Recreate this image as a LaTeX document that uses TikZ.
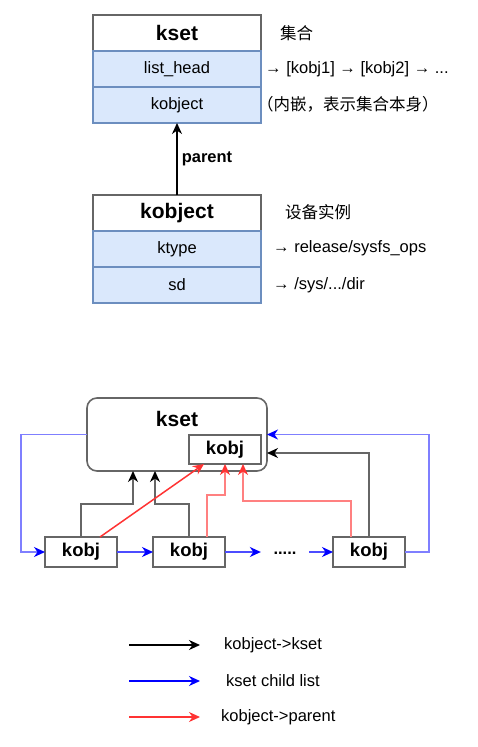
\documentclass[tikz,border=0pt]{standalone}
\usepackage{fontspec}
\setmainfont{Liberation Sans}
\newfontfamily\cjk{Noto Sans CJK SC}
\usetikzlibrary{positioning,arrows.meta}

\definecolor{fieldfill}{HTML}{DAE8FC}
\definecolor{fieldline}{HTML}{6C8EBF}
\definecolor{boxline}{HTML}{666666}
\definecolor{loopblue}{HTML}{7F7FFF}
\definecolor{linkblue}{HTML}{4C4CFF}
\definecolor{tipblue}{HTML}{0000FF}
\definecolor{lightred}{HTML}{FF8080}
\definecolor{tipred}{HTML}{FF3333}

\begin{document}
\begin{tikzpicture}[x=1pt,y=-1pt,
    head node/.style={draw=boxline,fill=white,line width=1.6pt,minimum width=168pt,minimum height=36pt,inner sep=0pt,outer sep=0pt,font=\fontsize{21}{24}\selectfont\bfseries},
    field node/.style={draw=fieldline,fill=fieldfill,line width=1.6pt,minimum width=168pt,minimum height=36pt,inner sep=0pt,outer sep=0pt,font=\fontsize{16.5}{19}\selectfont},
    note/.style={anchor=west,inner sep=0pt,font=\fontsize{16.5}{19}\selectfont},
    kobj node/.style={draw=boxline,fill=white,line width=1.6pt,minimum width=72pt,minimum height=30pt,inner sep=0pt,outer sep=0pt,font=\fontsize{18.5}{21}\selectfont\bfseries},
    set node/.style={draw=boxline,fill=white,line width=1.6pt,rounded corners=10pt,minimum width=180pt,minimum height=73pt,inner sep=0pt,outer sep=0pt},
    tip/.style={-{Stealth[length=11pt,width=10pt,inset=3.5pt,#1]}},
    set arrow/.style={draw=boxline,line width=1.5pt,tip={color=black}},
    list arrow/.style={line width=1.5pt,tip={color=tipblue}},
    parent arrow/.style={line width=1.5pt,tip={color=tipred}}]

    \useasboundingbox (0,0) rectangle (478,747);

    % kset structure
    \node[head node] (kset) at (177,33) {kset};
    \node[field node] (lh) [below=0pt of kset] {list\_head};
    \node[field node] (ko) [below=0pt of lh] {kobject};
    \node[note] at (280,33) {\cjk 集合};
    \node[note] at (265,69) {→ [kobj1] → [kobj2] → ...};
    \node[note] at (257,104) {\cjk （内嵌，表示集合本身）};

    % kobject structure
    \node[head node] (kobject) at (177,213) {kobject};
    \node[field node] (kt) [below=0pt of kobject] {ktype};
    \node[field node] (sd) [below=0pt of kt] {sd};
    \node[note] at (285,212) {\cjk 设备实例};
    \node[note] at (273,248) {→ release/sysfs\_ops};
    \node[note] at (273,285) {→ /sys/.../dir};

    \draw[line width=1.6pt,tip={color=black}] (kobject) -- (ko)
        node[midway,right,inner sep=4pt,font=\fontsize{16.5}{19}\selectfont\bfseries] {parent};

    % kset with its children
    \node[set node] (set) at (177,434.5) {};
    \node[font=\fontsize{21}{24}\selectfont\bfseries] (settitle) at (177,419) {kset};
    \node[kobj node,minimum height=29pt] (inner) at (225,449.5) {kobj};
    \node[kobj node] (k1) at (81,552) {kobj};
    \node[kobj node] (k2) at (189,552) {kobj};
    \node[kobj node] (k3) at (369,552) {kobj};
    \node[font=\fontsize{16.5}{19}\selectfont\bfseries,inner xsep=12.5pt,inner ysep=0pt] (dots) at (285,553) {.....};

    \draw[list arrow,draw=linkblue] (k1) -- (k2);
    \draw[list arrow,draw=linkblue] (k2.east) -- (k2.east -| dots.west);
    \draw[list arrow,draw=linkblue] (k3.west -| dots.east) -- (k3.west);
    \draw[list arrow,draw=loopblue] (set.west) -- ++(-66,0) |- (k1.west);
    \draw[list arrow,draw=loopblue] (k3.east) -- ++(24,0) |- (set.east);

    \draw[set arrow] (k1.north) -- ++(0,-33) -| ([xshift=-44pt]set.south);
    \draw[set arrow] (k2.north) -- ++(0,-33) -| ([xshift=-22pt]set.south);
    \draw[set arrow] (k3.north) |- ([yshift=-18.5pt]set.east);

    \draw[parent arrow,draw=tipred] ([xshift=19pt]k1.north) -- ([xshift=-21pt]inner.south);
    \draw[parent arrow,draw=lightred] ([xshift=18pt]k2.north) -- ++(0,-42) -| (inner.south);
    \draw[parent arrow,draw=lightred] ([xshift=-18pt]k3.north) -- ++(0,-36) -| ([xshift=18pt]inner.south);

    % legend
    \coordinate (l1a) at (129,645);
    \coordinate (l1b) at (200,645);
    \coordinate (l2a) at (129,681);
    \coordinate (l2b) at (200,681);
    \coordinate (l3a) at (129,717);
    \coordinate (l3b) at (200,717);
    \draw[line width=1.3pt,tip={}] (l1a) -- (l1b);
    \draw[line width=1.3pt,draw=tipblue,tip={}] (l2a) -- (l2b);
    \draw[line width=1.3pt,draw=tipred,tip={}] (l3a) -- (l3b);
    \node[note] at (224,645) {kobject->kset};
    \node[note] at (226,681) {kset child list};
    \node[note] at (221,717) {kobject->parent};
\end{tikzpicture}
\end{document}
